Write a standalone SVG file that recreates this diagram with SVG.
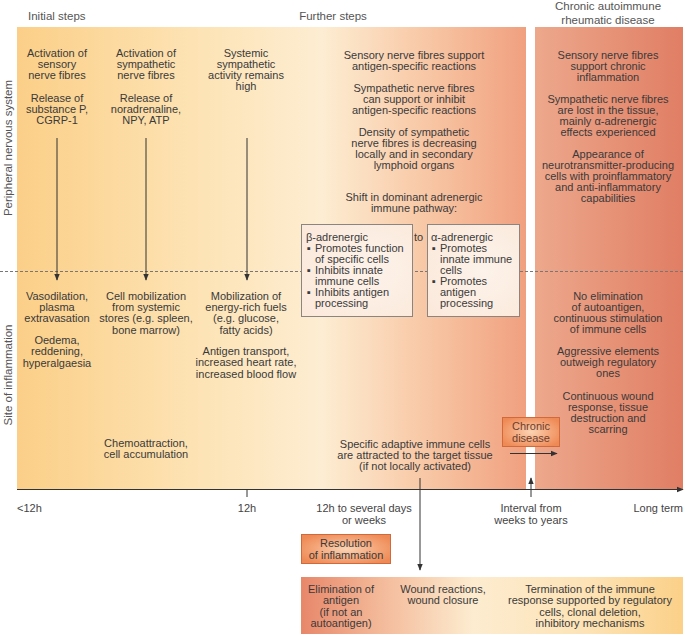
<svg xmlns="http://www.w3.org/2000/svg" width="685" height="636" viewBox="0 0 685 636">
<defs>
  <linearGradient id="gMain" x1="0" y1="0" x2="1" y2="0">
    <stop offset="0" stop-color="#fbcf88"/>
    <stop offset="0.35" stop-color="#fde3b4"/>
    <stop offset="0.6" stop-color="#fdedd2"/>
    <stop offset="0.8" stop-color="#f8c8a6"/>
    <stop offset="1" stop-color="#f0a07f"/>
  </linearGradient>
  <linearGradient id="gRight" x1="0" y1="0" x2="1" y2="0">
    <stop offset="0" stop-color="#eda88c"/>
    <stop offset="1" stop-color="#e07e64"/>
  </linearGradient>
  <linearGradient id="gBottom" x1="0" y1="0" x2="1" y2="0">
    <stop offset="0" stop-color="#e8876a"/>
    <stop offset="0.2" stop-color="#f3b898"/>
    <stop offset="0.45" stop-color="#fdecd0"/>
    <stop offset="0.75" stop-color="#fde3b6"/>
    <stop offset="1" stop-color="#fbd088"/>
  </linearGradient>
  <radialGradient id="gBtn" cx="0.5" cy="0.5" r="0.6">
    <stop offset="0" stop-color="#fbd4b4"/>
    <stop offset="0.6" stop-color="#f4a477"/>
    <stop offset="1" stop-color="#ee8a55"/>
  </radialGradient>
  <radialGradient id="gBox" cx="0.6" cy="0.5" r="0.7">
    <stop offset="0" stop-color="#fdf3ea"/>
    <stop offset="1" stop-color="#fbe9dc"/>
  </radialGradient>
  <marker id="ah" viewBox="0 0 10 10" refX="9" refY="5" markerWidth="7" markerHeight="7" orient="auto" markerUnits="userSpaceOnUse">
    <path d="M0,1 L10,5 L0,9 z" fill="#333"/>
  </marker>
  <style>
    text { font-family: "Liberation Sans", Arial, sans-serif; font-size: 11px; fill: #3a3a3a; }
    .c { text-anchor: middle; }
    .hdr { fill: #555; font-size: 11.5px; }
    .ax { fill: #444; }
    .ln { stroke: #333; stroke-width: 1; fill: none; }
    .box { fill: url(#gBox); stroke: #8a8580; stroke-width: 1; }
    .btn { fill: url(#gBtn); stroke: #d2693a; stroke-width: 1; }
  </style>
</defs>

<g id="panels">
  <rect x="17" y="27" width="509" height="462" fill="url(#gMain)"/>
  <rect x="535" y="27" width="148" height="462" fill="url(#gRight)"/>
  <rect x="301" y="577" width="382" height="57" fill="url(#gBottom)"/>
  <line x1="0" y1="271.5" x2="685" y2="271.5" stroke="#777" stroke-width="1" stroke-dasharray="3,2"/>
</g>

<g id="headers">
  <text class="hdr" x="28" y="20">Initial steps</text>
  <text class="hdr c" x="333" y="20">Further steps</text>
  <text class="hdr c" x="608" y="10">Chronic autoimmune</text>
  <text class="hdr c" x="608" y="24">rheumatic disease</text>
  <text class="hdr c" transform="translate(12,148) rotate(-90)">Peripheral nervous system</text>
  <text class="hdr c" transform="translate(12,375) rotate(-90)">Site of inflammation</text>
</g>

<g id="col1">
  <text class="c" x="57" y="57">Activation of</text>
  <text class="c" x="57" y="68">sensory</text>
  <text class="c" x="57" y="79">nerve fibres</text>
  <text class="c" x="57" y="102">Release of</text>
  <text class="c" x="57" y="113">substance P,</text>
  <text class="c" x="57" y="124">CGRP-1</text>
  <text class="c" x="57" y="300">Vasodilation,</text>
  <text class="c" x="57" y="311">plasma</text>
  <text class="c" x="57" y="322">extravasation</text>
  <text class="c" x="57" y="344">Oedema,</text>
  <text class="c" x="57" y="355">reddening,</text>
  <text class="c" x="57" y="367">hyperalgaesia</text>
</g>

<g id="col2">
  <text class="c" x="146" y="57">Activation of</text>
  <text class="c" x="146" y="68">sympathetic</text>
  <text class="c" x="146" y="79">nerve fibres</text>
  <text class="c" x="146" y="102">Release of</text>
  <text class="c" x="146" y="113">noradrenaline,</text>
  <text class="c" x="146" y="124">NPY, ATP</text>
  <text class="c" x="146" y="300">Cell mobilization</text>
  <text class="c" x="146" y="311">from systemic</text>
  <text class="c" x="146" y="322">stores (e.g. spleen,</text>
  <text class="c" x="146" y="334">bone marrow)</text>
  <text class="c" x="146" y="447">Chemoattraction,</text>
  <text class="c" x="146" y="458">cell accumulation</text>
</g>

<g id="col3">
  <text class="c" x="246" y="57">Systemic</text>
  <text class="c" x="246" y="68">sympathetic</text>
  <text class="c" x="246" y="79">activity remains</text>
  <text class="c" x="246" y="90">high</text>
  <text class="c" x="246" y="300">Mobilization of</text>
  <text class="c" x="246" y="311">energy-rich fuels</text>
  <text class="c" x="246" y="322">(e.g. glucose,</text>
  <text class="c" x="246" y="334">fatty acids)</text>
  <text class="c" x="246" y="355">Antigen transport,</text>
  <text class="c" x="246" y="366">increased heart rate,</text>
  <text class="c" x="246" y="378">increased blood flow</text>
</g>

<g id="further">
  <text class="c" x="414" y="59">Sensory nerve fibres support</text>
  <text class="c" x="414" y="70">antigen-specific reactions</text>
  <text class="c" x="414" y="92">Sympathetic nerve fibres</text>
  <text class="c" x="414" y="103">can support or inhibit</text>
  <text class="c" x="414" y="114">antigen-specific reactions</text>
  <text class="c" x="414" y="136">Density of sympathetic</text>
  <text class="c" x="414" y="147">nerve fibres is decreasing</text>
  <text class="c" x="414" y="158">locally and in secondary</text>
  <text class="c" x="414" y="169">lymphoid organs</text>
  <text class="c" x="414" y="201">Shift in dominant adrenergic</text>
  <text class="c" x="414" y="212">immune pathway:</text>
  <text class="c" x="415" y="448">Specific adaptive immune cells</text>
  <text class="c" x="415" y="459">are attracted to the target tissue</text>
  <text class="c" x="415" y="470">(if not locally activated)</text>
</g>

<g id="beta-box">
  <rect class="box" x="301.5" y="224.5" width="111" height="92"/>
  <text x="306" y="241">β-adrenergic</text>
  <text x="307" y="252">▪</text><text x="315" y="252">Promotes function</text>
  <text x="315" y="263">of specific cells</text>
  <text x="307" y="274">▪</text><text x="315" y="274">Inhibits innate</text>
  <text x="315" y="285">immune cells</text>
  <text x="307" y="296">▪</text><text x="315" y="296">Inhibits antigen</text>
  <text x="315" y="307">processing</text>
</g>

<text x="414" y="241">to</text>

<g id="alpha-box">
  <rect class="box" x="427.5" y="224.5" width="92" height="92"/>
  <text x="431" y="241">α-adrenergic</text>
  <text x="432" y="252">▪</text><text x="440" y="252">Promotes</text>
  <text x="440" y="263">innate immune</text>
  <text x="440" y="274">cells</text>
  <text x="432" y="285">▪</text><text x="440" y="285">Promotes</text>
  <text x="440" y="296">antigen</text>
  <text x="440" y="307">processing</text>
</g>

<g id="chronic-col">
  <text class="c" x="608" y="59">Sensory nerve fibres</text>
  <text class="c" x="608" y="70">support chronic</text>
  <text class="c" x="608" y="81">inflammation</text>
  <text class="c" x="608" y="103">Sympathetic nerve fibres</text>
  <text class="c" x="608" y="114">are lost in the tissue,</text>
  <text class="c" x="608" y="125">mainly α-adrenergic</text>
  <text class="c" x="608" y="136">effects experienced</text>
  <text class="c" x="608" y="158">Appearance of</text>
  <text class="c" x="608" y="169">neurotransmitter-producing</text>
  <text class="c" x="608" y="180">cells with proinflammatory</text>
  <text class="c" x="608" y="191">and anti-inflammatory</text>
  <text class="c" x="608" y="202">capabilities</text>
  <text class="c" x="608" y="300">No elimination</text>
  <text class="c" x="608" y="311">of autoantigen,</text>
  <text class="c" x="608" y="322">continuous stimulation</text>
  <text class="c" x="608" y="333">of immune cells</text>
  <text class="c" x="608" y="355">Aggressive elements</text>
  <text class="c" x="608" y="366">outweigh regulatory</text>
  <text class="c" x="608" y="377">ones</text>
  <text class="c" x="608" y="400">Continuous wound</text>
  <text class="c" x="608" y="411">response, tissue</text>
  <text class="c" x="608" y="422">destruction and</text>
  <text class="c" x="608" y="433">scarring</text>
</g>

<g id="chronic-disease">
  <rect class="btn" x="502.5" y="417.5" width="57" height="29"/>
  <text class="c" x="531" y="430" style="fill:#6a4030">Chronic</text>
  <text class="c" x="531" y="442" style="fill:#6a4030">disease</text>
</g>

<g id="resolution">
  <rect class="btn" x="301.5" y="534.5" width="89" height="29"/>
  <text class="c" x="346" y="547">Resolution</text>
  <text class="c" x="346" y="559">of inflammation</text>
</g>

<g id="outcomes">
  <text class="c" x="341" y="593">Elimination of</text>
  <text class="c" x="341" y="604">antigen</text>
  <text class="c" x="341" y="616">(if not an</text>
  <text class="c" x="341" y="627">autoantigen)</text>
  <text class="c" x="443" y="593">Wound reactions,</text>
  <text class="c" x="443" y="604">wound closure</text>
  <text class="c" x="590" y="593">Termination of the immune</text>
  <text class="c" x="590" y="604">response supported by regulatory</text>
  <text class="c" x="590" y="616">cells, clonal deletion,</text>
  <text class="c" x="590" y="627">inhibitory mechanisms</text>
</g>

<g id="axis-labels">
  <text class="ax" x="17" y="512">&lt;12h</text>
  <text class="ax c" x="247" y="512">12h</text>
  <text class="ax c" x="364" y="512">12h to several days</text>
  <text class="ax c" x="364" y="524">or weeks</text>
  <text class="ax c" x="531" y="512">Interval from</text>
  <text class="ax c" x="531" y="524">weeks to years</text>
  <text class="ax" x="683" y="512" style="text-anchor:end">Long term</text>
</g>

<g id="connectors">
  <line class="ln" x1="17" y1="489.5" x2="683" y2="489.5" marker-end="url(#ah)"/>
  <line class="ln" x1="247" y1="489" x2="247" y2="497"/>
  <line class="ln" x1="57" y1="138" x2="57" y2="280" marker-end="url(#ah)"/>
  <line class="ln" x1="146" y1="138" x2="146" y2="280" marker-end="url(#ah)"/>
  <line class="ln" x1="247" y1="138" x2="247" y2="280" marker-end="url(#ah)"/>
  <line class="ln" x1="420" y1="478" x2="420" y2="570" marker-end="url(#ah)"/>
  <line class="ln" x1="531" y1="497" x2="531" y2="478" marker-end="url(#ah)"/>
  <line class="ln" x1="510" y1="453.5" x2="557" y2="453.5" marker-end="url(#ah)"/>
</g>
</svg>
